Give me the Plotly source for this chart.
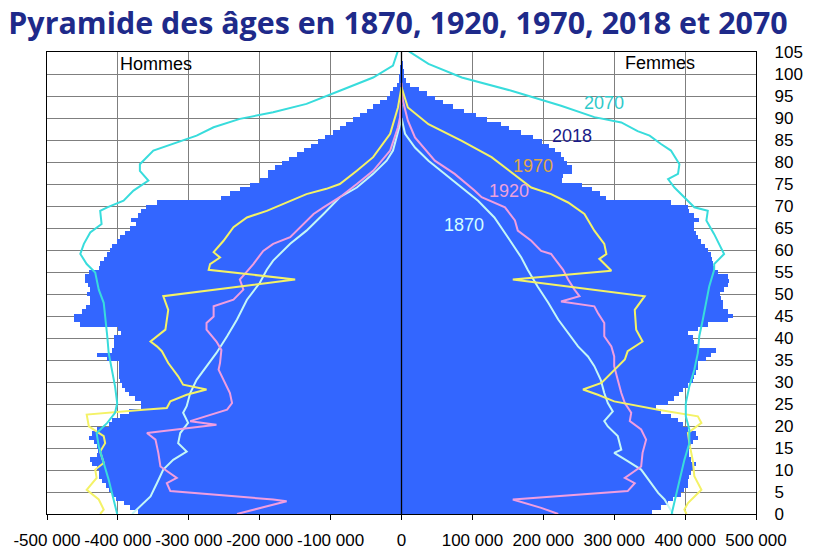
import plotly.graph_objects as go

# ---------------- DATA ----------------
ages = list(range(0, 106))

# 2018 population (bars), thousands
hommes_2018 = [371, 383, 392, 402, 408, 413, 417, 422, 426, 427,
               430, 436, 439, 430, 428, 430, 434, 441, 436, 430,
               413, 408, 397, 385, 368, 368, 376, 385, 390, 394,
               397, 399, 399, 399, 398, 415, 430, 408, 405, 405,
               405, 395, 400, 453, 462, 462, 450, 445, 440, 440,
               443, 440, 442, 446, 446, 441, 427, 425, 420, 415,
               411, 408, 401, 397, 390, 383, 375, 382, 372, 368,
               360, 345, 254, 242, 228, 213, 200, 188, 188, 178,
               168, 158, 148, 138, 128, 118, 108, 97, 87, 78,
               68, 59, 49, 40, 30, 21, 16, 12, 7, 4,
               3, 2, 1, 0.5, 0.3, 0.2]
femmes_2018 = [354, 366, 376, 383, 394, 399, 404, 404, 406, 408,
               411, 415, 408, 406, 406, 408, 411, 418, 416, 404,
               397, 390, 380, 366, 359, 376, 385, 392, 397, 404,
               411, 413, 415, 418, 418, 430, 436, 444, 420, 413,
               411, 404, 418, 432, 460, 467, 460, 453, 453, 451,
               449, 455, 460, 462, 460, 446, 441, 439, 438, 437,
               432, 428, 423, 418, 415, 413, 413, 420, 413, 406,
               404, 380, 288, 280, 268, 254, 226, 228, 240, 240,
               233, 229, 225, 216, 208, 198, 185, 168, 152, 140,
               120, 105, 88, 72, 58, 47, 36, 24, 12, 6,
               4, 3, 2, 1, 0.5, 0.3]

# Lines (age, thousands)
ages_1870_h = [0, 1.7, 4, 7, 10.1, 12.3, 14.2, 16.1, 18.4, 20.7, 23, 24.5, 27.5, 30.5, 33.6,
               36.6, 40.4, 44.2, 48.7, 52.5, 55.5, 57.6, 61.4, 64.4, 68.2, 72, 74.2, 77.3,
               80.3, 82.6, 88.6, 93]
pop_1870_h = [380, 369, 354, 345, 336, 322, 303, 315, 312, 301, 308, 303, 298, 289, 275,
              261, 246, 232, 218, 200, 190, 181, 157, 134, 110, 87, 63, 40,
              21, 12, 2, 0]
ages_1870_f = [0, 2.1, 3.3, 4.8, 7, 10.1, 12, 13.9, 14.6, 17.7, 19.9, 21.1, 23.3, 25.2, 27.5,
               30.5, 33.6, 35.8, 38.1, 41.1, 44.2, 48, 51.7, 55.5, 58.3, 62.9, 67.4, 71.2,
               74.2, 77.3, 80.3, 83.3, 86.4, 90]
pop_1870_f = [383, 376, 371, 362, 352, 338, 319, 300, 310, 305, 291, 286, 298, 291, 286,
              281, 272, 263, 249, 235, 221, 207, 192, 178, 169, 150, 131, 108,
              85, 61, 38, 19, 5, 0]

ages_1920_h = [0, 2.9, 3.3, 5.2, 7, 8.2, 10.8, 13.9, 16.9, 18.4, 20.3, 21.1, 23.7, 25.2, 27.5,
               30.5, 32.8, 34.3, 37.3, 39.2, 41.9, 43.4, 44.9, 47.2, 48.7, 51, 53.3, 55.5,
               56.8, 59.8, 61.4, 62.9, 65.9, 68.2, 69.7, 72, 75, 78, 82.6, 87.9, 90.2, 95]
pop_1920_h = [232, 162, 181, 326, 331, 317, 340, 343, 347, 359, 261, 298, 246, 239, 242,
              251, 258, 256, 254, 261, 275, 275, 265, 265, 237, 223, 228, 216,
              209, 195, 181, 157, 139, 124, 110, 87, 63, 40, 16, 5, 2, 0]
ages_1920_f = [0, 1.4, 3.3, 5.2, 7, 8.2, 10.8, 13.9, 16.9, 19.2, 21.1, 23, 25.2, 27.5, 30.5,
               33.6, 35.8, 38.1, 40.4, 43.4, 45.7, 47.2, 48.3, 49.5, 51, 53.3, 55.5, 59.1,
               59.8, 62.1, 64.4, 66.7, 69.7, 72, 73.5, 77.3, 80.3, 85.6, 89.4, 93.9, 98]
pop_1920_f = [221, 197, 157, 319, 329, 315, 338, 340, 345, 338, 322, 324, 315, 310, 305,
              300, 300, 296, 286, 286, 277, 272, 225, 251, 244, 235, 228, 211,
              197, 183, 164, 160, 146, 113, 103, 75, 47, 19, 9, 2, 0]

ages_1970_h = [0, 1, 3.3, 5.5, 8.2, 10.1, 11.6, 14.2, 16.1, 17.7, 19.9, 22.6, 23.7, 24.1, 25.6,
               27.1, 28.3, 29.4, 31.3, 32.8, 34.3, 37, 38.1, 39.2, 40.4, 41.9, 46.4, 49.5,
               53.3, 55.5, 56.8, 58.3, 59.5, 62.1, 65.2, 67.4, 68.9, 70.8, 72.7, 73.9, 75,
               78, 81.1, 86.4, 92.4, 97]
pop_1970_h = [425, 420, 427, 444, 430, 432, 420, 425, 418, 420, 441, 444, 364, 331, 326,
              303, 275, 308, 315, 322, 329, 338, 345, 354, 345, 333, 329, 336,
              150, 272, 270, 256, 265, 251, 237, 218, 190, 162, 134, 106, 87,
              63, 40, 16, 5, 0]
ages_1970_f = [0, 1, 2.5, 5.5, 8.6, 12, 16.1, 18.4, 20.7, 22.2, 23.7, 25.6, 27.1, 28.3, 29.8,
               32.8, 35.1, 37, 39.2, 41.9, 46.4, 49.5, 53.3, 55.3, 58, 59.1, 61.4, 64.4,
               66.7, 68.2, 70.8, 72.7, 74.2, 78.8, 81.1, 84.8, 88.6, 92.4, 97]
pop_1970_f = [402, 399, 404, 423, 413, 411, 406, 404, 423, 418, 362, 300, 277, 256, 282,
              300, 315, 319, 340, 331, 329, 343, 157, 296, 279, 289, 286, 272,
              263, 258, 235, 211, 183, 146, 127, 85, 38, 9, 0]

ages_2070_h = [0, 3.3, 7.8, 11.6, 15.4, 18.4, 20.7, 23, 25.2, 29, 32.8, 36.6, 40.4, 44.2,
               48, 51, 54.9, 56.8, 59.1, 61.4, 64, 65.9, 68.9, 69.7, 71.2, 73.5, 75.8, 78,
               79.5, 82.6, 84.1, 86, 87.9, 89.8, 91.3, 93.2, 96.2, 99.2, 101.9, 105.3]
pop_2070_h = [401, 406, 413, 420, 427, 430, 415, 404, 401, 404, 408, 413, 415, 418,
              420, 427, 432, 444, 453, 448, 439, 423, 425, 415, 392, 378, 357, 369,
              369, 350, 322, 289, 265, 228, 181, 134, 87, 40, 12, 5]
ages_2070_f = [0, 4, 8.6, 12.3, 16.1, 19.2, 22.2, 25.2, 29, 32.8, 36.6, 40.4, 44.2, 48,
               51.7, 55.5, 56.8, 59.1, 63.6, 66.7, 68.9, 69.7, 72, 74.2, 76.1, 77.3, 79.5,
               82.6, 84.1, 86, 87, 89, 90.2, 92.8, 96.2, 99.2, 102.3, 105.3]
pop_2070_f = [381, 387, 394, 399, 406, 406, 401, 401, 406, 413, 418, 420, 425, 430,
              434, 441, 441, 455, 441, 430, 432, 413, 399, 385, 376, 390, 392,
              380, 366, 350, 333, 310, 272, 225, 155, 85, 38, 9]

x_ticks = [-500000, -400000, -300000, -200000, -100000, 0, 100000, 200000, 300000, 400000, 500000]
x_labels = ["-500 000", "-400 000", "-300 000", "-200 000", "-100 000", "0",
            "100 000", "200 000", "300 000", "400 000", "500 000"]
y_ticks = list(range(0, 106, 5))

title_text = "Pyramide des âges en 1870, 1920, 1970, 2018 et 2070"

# ---------------- STYLE ----------------
BAR = "#3366FF"
C1870 = "#c4f7f7"
C1920 = "#f09ee0"
C1970 = "#f4f266"
C2070 = "#38dcdc"
TICKFONT = dict(family="Liberation Sans, Arial", size=17, color="black")
LABFONT = "Liberation Sans, Arial"

K = 1000
fig = go.Figure()
fig.add_trace(go.Bar(y=ages, x=[-v * K for v in hommes_2018], orientation="h",
                     marker=dict(color=BAR, line=dict(width=0)), yaxis="y", name="2018 H"))
fig.add_trace(go.Bar(y=ages, x=[v * K for v in femmes_2018], orientation="h",
                     marker=dict(color=BAR, line=dict(width=0)), yaxis="y", name="2018 F"))

series = [
    (ages_1870_h, pop_1870_h, -1, C1870), (ages_1870_f, pop_1870_f, 1, C1870),
    (ages_1920_h, pop_1920_h, -1, C1920), (ages_1920_f, pop_1920_f, 1, C1920),
    (ages_1970_h, pop_1970_h, -1, C1970), (ages_1970_f, pop_1970_f, 1, C1970),
    (ages_2070_h, pop_2070_h, -1, C2070), (ages_2070_f, pop_2070_f, 1, C2070),
]
for a, p, sgn, col in series:
    fig.add_trace(go.Scatter(y=a, x=[sgn * v * K for v in p], mode="lines",
                             line=dict(color=col, width=2), yaxis="y2", hoverinfo="skip"))

annos = [
    ("Hommes", -346000, 102.3, "black"),
    ("Femmes", 364000, 102.4, "black"),
    ("2070", 285000, 93.3, "#2fcaca"),
    ("2018", 240000, 85.8, "#1a1a8a"),
    ("1970", 186000, 79.2, "#e0a848"),
    ("1920", 151000, 73.5, "#eea2dc"),
    ("1870", 88000, 65.6, "#d4ffff"),
]
for txt, ax_, ay_, col in annos:
    fig.add_annotation(x=ax_, y=ay_, xref="x", yref="y2", text=txt, showarrow=False,
                       font=dict(family=LABFONT, size=18, color=col))

fig.add_shape(type="line", xref="x", yref="paper", x0=0, x1=0, y0=0, y1=1,
              line=dict(color="black", width=1.3), layer="above")

fig.update_layout(
    width=835, height=557,
    margin=dict(l=47, r=79, t=52, b=43, autoexpand=False),
    paper_bgcolor="white", plot_bgcolor="white",
    showlegend=False, barmode="overlay", bargap=0,
    title=dict(text=title_text, x=0.4766, xanchor="center", y=1 - 23 / 557, yanchor="middle",
               yref="container",
               font=dict(family="Open Sans", size=30.4, color="#1e2a8a", weight="bold")),
    xaxis=dict(range=[-500000, 500000], tickvals=x_ticks, ticktext=x_labels, tickangle=0,
               showgrid=True, gridcolor="#7f7f7f", gridwidth=1, zeroline=False,
               showline=True, linecolor="black", linewidth=1.3, mirror=True,
               ticks="outside", ticklen=5, tickcolor="black", tickfont=TICKFONT,
               ticklabelstandoff=5, automargin=False),
    yaxis=dict(range=[-0.5, 105.5], visible=False, showgrid=False),
    yaxis2=dict(range=[0, 105], overlaying="y", side="right", tickvals=y_ticks,
                showgrid=True, gridcolor="#7f7f7f", gridwidth=1, zeroline=False,
                showline=True, linecolor="black", linewidth=1.3, mirror=True,
                ticks="", tickfont=TICKFONT, ticklabelstandoff=14, automargin=False),
)

fig.write_html("out.html", config={"displayModeBar": False},
               post_script="document.body.style.margin='0';")
